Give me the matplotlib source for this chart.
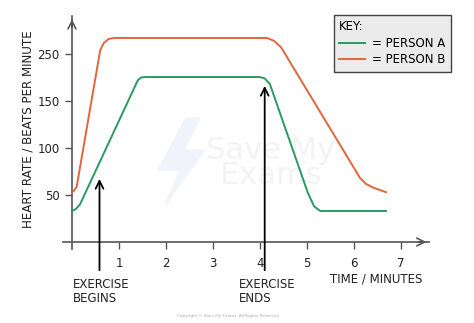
import matplotlib
matplotlib.use("Agg")
import matplotlib.pyplot as plt
from matplotlib.patches import Polygon

# heart rate over time for two people (bpm on a linear scale)
time_a = [0, 0.08, 0.17, 1.40, 1.47, 1.55, 4.0, 4.1, 4.21, 5.02, 5.15, 5.28, 6.68]
rate_a = [33, 35, 40, 172, 175, 175.5, 175.5, 174, 168, 52, 38, 33, 33]
time_b = [0, 0.05, 0.1, 0.6, 0.68, 0.78, 0.9, 4.15, 4.3, 4.45, 6.13, 6.25, 6.4, 6.68]
rate_b = [53, 55, 59, 204, 212, 216, 217, 217, 214, 207, 68, 62, 58, 53]

x_ticks = [1, 2, 3, 4, 5, 6, 7]
y_ticks = [50, 100, 150, 200]
y_tick_labels = ["50", "100", "150", "250"]

green = "#2b9a62"
orange = "#e2663a"
axis_col = "#555555"
text_col = "#222222"

W, H = 474, 323
fig = plt.figure(figsize=(W / 100, H / 100), dpi=100)

# axes placed so that 1 minute = 47 px and 50 bpm = 47 px
x0, x1 = -0.2, 7.6
y0, y1 = -7, 240
px_x0 = 72 + x0 * 47
px_w = (x1 - x0) * 47
px_bot = 242 - y0 * 0.94
px_top = 242 - y1 * 0.94
ax = fig.add_axes([px_x0 / W, 1 - px_bot / H, px_w / W, (px_bot - px_top) / H])
ax.set_xlim(x0, x1)
ax.set_ylim(y0, y1)
ax.patch.set_visible(False)

for s in ["top", "right"]:
    ax.spines[s].set_visible(False)
for s in ["bottom", "left"]:
    ax.spines[s].set_position(("data", 0))
    ax.spines[s].set_color(axis_col)
    ax.spines[s].set_linewidth(1.2)

ax.annotate("", xy=(x1, 0), xytext=(x1 - 0.3, 0),
            arrowprops=dict(arrowstyle="->", color=axis_col, lw=1.2, mutation_scale=14),
            annotation_clip=False)
ax.annotate("", xy=(0, y1), xytext=(0, y1 - 15),
            arrowprops=dict(arrowstyle="->", color=axis_col, lw=1.2, mutation_scale=14),
            annotation_clip=False)

ax.set_xticks(x_ticks)
ax.set_yticks(y_ticks)
ax.set_yticklabels(y_tick_labels)
ax.tick_params(axis="both", direction="out", length=5, width=1, color=axis_col,
               labelsize=8.5, labelcolor=text_col)
ax.tick_params(axis="x", pad=6)
ax.tick_params(axis="y", pad=4)

# faint watermark behind the curves
def px(x, y):
    return (x / W, 1 - y / H)

bolt = Polygon([px(186, 118), px(158, 170), px(180, 170), px(165, 205),
                px(205, 150), px(184, 150), px(200, 118)],
               closed=True, transform=fig.transFigure, color="#f1f3fb", zorder=0)
ax.add_patch(bolt)
ax.text(271 / W, 1 - 163 / H, "Save My\nExams", transform=fig.transFigure,
        ha="center", va="center", fontsize=22, color="#f3f3f3",
        linespacing=0.85, zorder=0)

ax.plot(time_a, rate_a, color=green, lw=1.4, label="= PERSON A", zorder=3)
ax.plot(time_b, rate_b, color=orange, lw=1.4, label="= PERSON B", zorder=3)

# exercise start / end markers
ax.annotate("", xy=(0.585, 70), xytext=(0.585, -33),
            arrowprops=dict(arrowstyle="->", color="black", lw=1.3, mutation_scale=14),
            annotation_clip=False)
ax.annotate("", xy=(4.1, 169), xytext=(4.1, -33),
            arrowprops=dict(arrowstyle="->", color="black", lw=1.3, mutation_scale=14),
            annotation_clip=False)

fig.text(73 / W, 1 - 278 / H, "EXERCISE\nBEGINS", ha="left", va="top",
         fontsize=8.5, color=text_col, linespacing=1.05)
fig.text(239 / W, 1 - 278 / H, "EXERCISE\nENDS", ha="left", va="top",
         fontsize=8.5, color=text_col, linespacing=1.05)
fig.text(376 / W, 1 - 279 / H, "TIME / MINUTES", ha="center", va="center",
         fontsize=8.5, color=text_col)
fig.text(28 / W, 1 - 129 / H, "HEART RATE / BEATS PER MINUTE", ha="center",
         va="center", rotation=90, fontsize=8.6, color=text_col)

leg = ax.legend(loc="upper right", bbox_to_anchor=(451 / W, 1 - 15 / H),
                bbox_transform=fig.transFigure, title="KEY:", alignment="left",
                fontsize=8.5, title_fontsize=8.5, frameon=True, fancybox=False,
                facecolor="#ebebeb", edgecolor="#444444", framealpha=1,
                handlelength=2.2, handletextpad=0.6, labelspacing=0.3,
                borderpad=0.45, borderaxespad=0)
leg.get_frame().set_linewidth(1.0)

fig.text(228 / W, 1 - 316 / H, "Copyright \u00a9 Save My Exams. All Rights Reserved",
         ha="center", va="center", fontsize=3, color="#aaaaaa")

fig.savefig("out.png", dpi=100)
